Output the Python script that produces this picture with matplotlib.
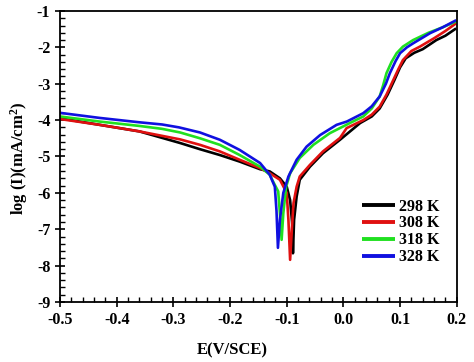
import matplotlib.pyplot as plt
from matplotlib.ticker import MultipleLocator, FormatStrFormatter

plt.rcParams["font.family"] = ["Liberation Serif", "DejaVu Serif"]
plt.rcParams["font.weight"] = "bold"
plt.rcParams["mathtext.fontset"] = "custom"
plt.rcParams["mathtext.rm"] = "Liberation Serif:bold"
plt.rcParams["mathtext.it"] = "Liberation Serif:bold"
plt.rcParams["mathtext.bf"] = "Liberation Serif:bold"

labels = ["298 K", "308 K", "318 K", "328 K"]
colors = ["black", "#e01010", "#20e020", "#1010e0"]

# potential (V/SCE) and log current
e_298 = [-0.5, -0.43, -0.36, -0.288, -0.253, -0.218, -0.183, -0.147, -0.13, -0.112, -0.1,
         -0.094, -0.090, -0.089, -0.087, -0.0825, -0.077, -0.059, -0.036, -0.006, 0.0296,
         0.05, 0.064, 0.078, 0.09, 0.1, 0.11, 0.125, 0.14, 0.164, 0.18, 0.197]
i_298 = [-3.95, -4.13, -4.31, -4.63, -4.8, -4.96, -5.14, -5.35, -5.41, -5.6, -5.83,
         -6.2, -6.9, -7.66, -6.74, -6.1, -5.64, -5.28, -4.91, -4.54, -4.08,
         -3.9, -3.68, -3.3, -2.9, -2.55, -2.3, -2.15, -2.05, -1.8, -1.68, -1.5]

e_308 = [-0.5, -0.43, -0.36, -0.288, -0.253, -0.218, -0.183, -0.147, -0.13, -0.112, -0.1,
         -0.097, -0.094, -0.091, -0.088, -0.0825, -0.077, -0.059, -0.036, -0.006, 0.0057,
         0.035, 0.05, 0.064, 0.076, 0.088, 0.097, 0.105, 0.12, 0.135, 0.16, 0.18, 0.197]
i_308 = [-3.97, -4.13, -4.31, -4.53, -4.68, -4.86, -5.09, -5.32, -5.46, -5.64, -6.0,
         -6.74, -7.84, -7.02, -6.28, -5.83, -5.55, -5.23, -4.86, -4.49, -4.22,
         -4.0, -3.85, -3.63, -3.3, -2.9, -2.6, -2.35, -2.1, -1.98, -1.75, -1.55, -1.36]

e_318 = [-0.5, -0.43, -0.36, -0.32, -0.288, -0.253, -0.218, -0.183, -0.147, -0.13, -0.124,
         -0.115, -0.112, -0.109, -0.106, -0.101, -0.094, -0.077, -0.053, -0.024, 0.0115,
         0.035, 0.05, 0.064, 0.07, 0.076, 0.085, 0.094, 0.105, 0.123, 0.15, 0.175, 0.197]
i_318 = [-3.9, -4.04, -4.16, -4.24, -4.34, -4.5, -4.68, -4.96, -5.28, -5.5, -5.69,
         -5.96, -6.56, -7.29, -6.56, -5.83, -5.46, -5.04, -4.68, -4.36, -4.08,
         -3.9, -3.68, -3.35, -3.05, -2.71, -2.4, -2.16, -1.98, -1.8, -1.6, -1.45, -1.3]

e_328 = [-0.5, -0.43, -0.36, -0.32, -0.29, -0.253, -0.218, -0.183, -0.147, -0.13, -0.121,
         -0.118, -0.1155, -0.112, -0.106, -0.097, -0.0825, -0.065, -0.041, -0.012, 0.006,
         0.035, 0.05, 0.064, 0.075, 0.082, 0.092, 0.1, 0.112, 0.123, 0.153, 0.175, 0.197]
i_328 = [-3.8, -3.94, -4.06, -4.12, -4.2, -4.34, -4.54, -4.82, -5.18, -5.5, -5.83,
         -6.5, -7.51, -6.74, -6.0, -5.55, -5.09, -4.73, -4.41, -4.13, -4.04,
         -3.81, -3.62, -3.35, -3.0, -2.71, -2.38, -2.16, -2.0, -1.89, -1.61, -1.45, -1.27]

curves = [(e_298, i_298), (e_308, i_308), (e_318, i_318), (e_328, i_328)]

fig = plt.figure(figsize=(4.74, 3.62), dpi=100)
ax = fig.add_axes([0.1266, 0.1657, 0.837, 0.804])

for (e, i), lab, c in zip(curves, labels, colors):
    ax.plot(e, i, color=c, lw=1.9, label=lab)

ax.set_xlim(-0.5, 0.2)
ax.set_ylim(-9, -1)
ax.xaxis.set_major_locator(MultipleLocator(0.1))
ax.xaxis.set_minor_locator(MultipleLocator(0.02))
ax.yaxis.set_major_locator(MultipleLocator(1))
ax.yaxis.set_minor_locator(MultipleLocator(0.2))
ax.xaxis.set_major_formatter(FormatStrFormatter("%.1f"))
ax.yaxis.set_major_formatter(FormatStrFormatter("%d"))
ax.tick_params(which="major", direction="inout", length=7, width=1.2, labelsize=11.5)
ax.tick_params(which="minor", direction="in", length=3.5, width=1.0)
for s in ax.spines.values():
    s.set_linewidth(1.3)

ax.set_xlabel("E(V/SCE)", fontsize=12, fontweight="bold")
ax.xaxis.set_label_coords(0.433, -0.14)
ax.set_ylabel(r"log (I)(mA/cm$^2$)", fontsize=12, fontweight="bold")
ax.yaxis.set_label_coords(-0.075, 0.495)

leg = ax.legend(frameon=False, loc="upper left", bbox_to_anchor=(0.761, 0.355),
                borderpad=0, borderaxespad=0, handlelength=2.1, handletextpad=0.2,
                labelspacing=0.05, prop={"size": 11.5, "weight": "bold"})
for ln in leg.get_lines():
    ln.set_linewidth(2.8)
    ln.set_solid_capstyle("butt")

fig.savefig("out.png", dpi=100)
